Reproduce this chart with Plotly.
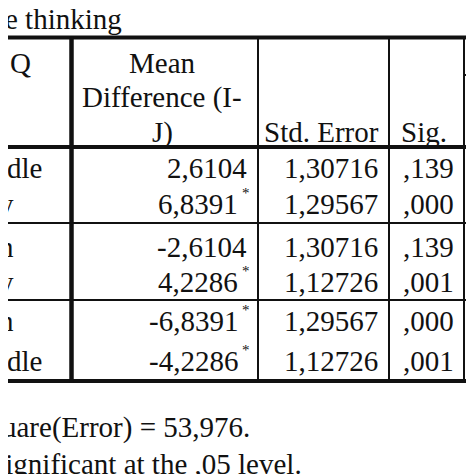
import plotly.graph_objects as go

# Table contents (cropped SPSS post-hoc output)
row_labels = ["dle", "y", "n", "y", "n", "dle"]
mean_diff = ["2,6104", "6,8391", "-2,6104", "4,2286", "-6,8391", "-4,2286"]
significant = [False, True, False, True, True, True]
std_error = ["1,30716", "1,29567", "1,30716", "1,12726", "1,29567", "1,12726"]
sig = [",139", ",000", ",139", ",001", ",000", ",001"]
row_y = [160, 196, 239, 274, 313, 353]
footnotes = ["uare(Error) = 53,976.", "significant at the ,05 level."]

FONT = "Liberation Serif"
INK = "#111111"
FS = 29
W = 474.0

fig = go.Figure()
ann = []

def txt(x, y, s, anchor="left", size=FS):
    # paper coords so text partly outside the frame is still drawn
    ann.append(dict(x=x / W, y=1 - y / W, xref="paper", yref="paper", text=s,
                    showarrow=False, xanchor=anchor, yanchor="middle",
                    font=dict(family=FONT, size=size, color=INK)))

# title and headers
txt(-5, 11, "e thinking")
txt(0, 55, "Q")
txt(154, 55, "Mean", "center")
txt(154, 89, "Difference (I-", "center")
txt(154, 124, "J)", "center")
txt(254, 124, "Std. Error")
txt(391, 124, "Sig.")

# body
for i, y in enumerate(row_y):
    lab_end = 36 if row_labels[i] == "dle" else 8
    txt(lab_end, y, row_labels[i], "right")
    if significant[i]:
        txt(232, y, mean_diff[i], "right")
        txt(232, y - 11, "*", "left", 15)
    else:
        txt(241, y, mean_diff[i], "right")
    txt(372, y, std_error[i], "right")
    txt(448, y, sig[i], "right")

txt(-8, 419, footnotes[0])
txt(-16, 456, footnotes[1])

shapes = []
def line(x0, y0, x1, y1, w):
    shapes.append(dict(type="line", x0=x0, y0=y0, x1=x1, y1=y1, xref="x", yref="y",
                       line=dict(color=INK, width=w)))

line(0, 29.5, 474, 29.5, 4)
line(0, 139, 474, 139, 4)
line(0, 373, 474, 373, 4)
line(0, 215, 474, 215, 2)
line(0, 292, 474, 292, 2)
line(456, 67, 474, 67, 2)
line(63.5, 29, 63.5, 375, 4.5)
for x in [250, 381, 456]:
    line(x, 30, x, 373, 2)

fig.update_layout(
    width=474, height=474, margin=dict(l=0, r=0, t=0, b=0),
    paper_bgcolor="white", plot_bgcolor="white",
    xaxis=dict(range=[0, 474], visible=False, fixedrange=True),
    yaxis=dict(range=[474, 0], visible=False, fixedrange=True),
    annotations=ann, shapes=shapes, showlegend=False,
)
fig.write_html("out.html")
